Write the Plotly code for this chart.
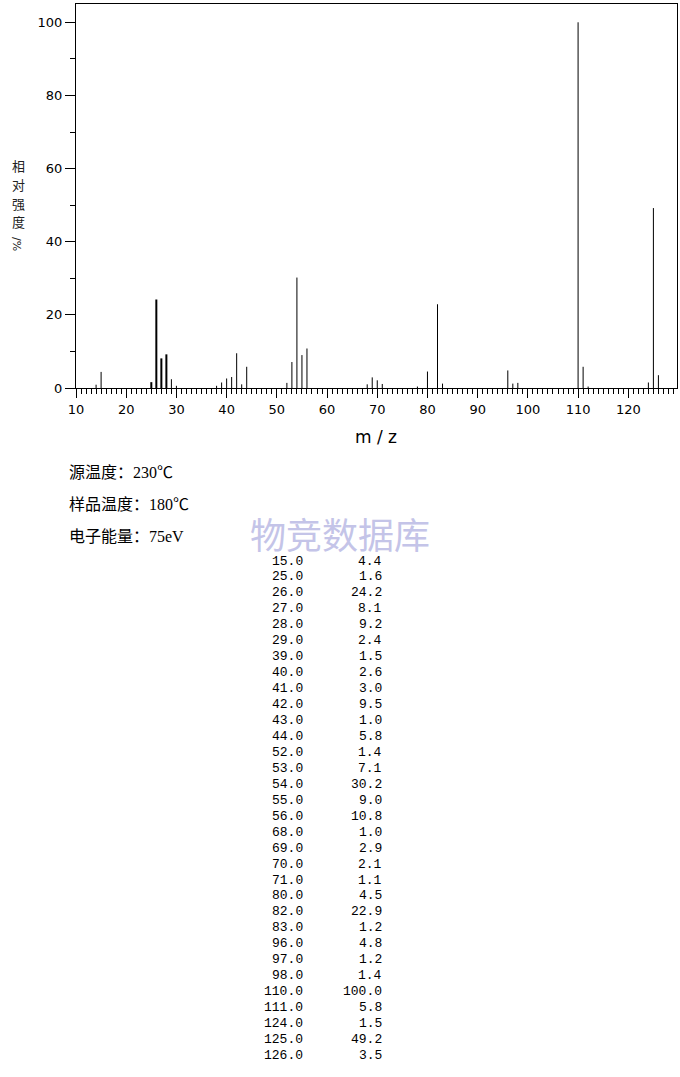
import plotly.graph_objects as go

# ---- data ----
mz = [15, 25, 26, 27, 28, 29, 39, 40, 41, 42, 43, 44, 52, 53, 54, 55, 56,
      68, 69, 70, 71, 80, 82, 83, 96, 97, 98, 110, 111, 124, 125, 126]
intensity = [4.4, 1.6, 24.2, 8.1, 9.2, 2.4, 1.5, 2.6, 3.0, 9.5, 1.0, 5.8, 1.4,
             7.1, 30.2, 9.0, 10.8, 1.0, 2.9, 2.1, 1.1, 4.5, 22.9, 1.2, 4.8,
             1.2, 1.4, 100.0, 5.8, 1.5, 49.2, 3.5]
# small peaks shown in the spectrum but not in the table
minor_mz = [14, 30, 38, 78, 112]
minor_intensity = [0.9, 0.6, 0.6, 0.4, 0.4]

info_lines = ["源温度：230℃", "样品温度：180℃", "电子能量：75eV"]
y_title_chars = ["相", "对", "强", "度"]
watermark = "物竞数据库"

# ---- layout geometry (pixels) ----
W, H = 680, 1077
L, R, T, B = 76, 3, 4, 689
PW, PH = W - L - R, H - T - B


def px(x):
    return (x - L) / PW


def py(y):
    return (H - B - y) / PH


thick = {25, 26, 27, 28}

all_mz = mz + minor_mz
all_int = intensity + minor_intensity

fig = go.Figure()
for width_px, sel in [(1, lambda m: m not in thick), (2, lambda m: m in thick)]:
    xs, ys = [], []
    for m, v in zip(all_mz, all_int):
        if sel(m):
            xs += [m, m, None]
            ys += [0, v, None]
    fig.add_trace(go.Scatter(x=xs, y=ys, mode="lines",
                             line=dict(color="black", width=width_px),
                             hoverinfo="skip", showlegend=False))

tickfont = dict(family="DejaVu Sans", size=13, color="black")
fig.update_xaxes(range=[10, 129.7], showline=True, linecolor="black", linewidth=1,
                 mirror=True, ticks="outside", ticklen=9, tickcolor="black",
                 dtick=10, tick0=10, showgrid=False, zeroline=False,
                 tickfont=tickfont,
                 minor=dict(dtick=1, tick0=10, ticks="outside", ticklen=5,
                            tickcolor="black", showgrid=False))
fig.update_yaxes(range=[0, 105], showline=True, linecolor="black", linewidth=1,
                 mirror=True, ticks="outside", ticklen=10, tickcolor="black",
                 dtick=20, tick0=0, showgrid=False, zeroline=False,
                 tickfont=tickfont,
                 minor=dict(dtick=10, tick0=0, ticks="outside", ticklen=5,
                            tickcolor="black", showgrid=False))

ann = []
# x-axis title
ann.append(dict(x=px(376), y=py(437), xref="paper", yref="paper", text="m / z",
                showarrow=False, xanchor="center", yanchor="middle",
                font=dict(family="DejaVu Sans", size=17, color="black")))
# y-axis title (stacked characters, one annotation each)
for i, ch in enumerate(y_title_chars):
    ann.append(dict(x=px(18), y=py(165 + i * 19), xref="paper", yref="paper",
                    text=ch, showarrow=False, xanchor="center", yanchor="middle",
                    font=dict(family="Noto Sans CJK SC", size=13, color="#222")))
ann.append(dict(x=px(17), y=py(244), xref="paper", yref="paper", text="/%",
                textangle=90, showarrow=False, xanchor="center", yanchor="middle",
                font=dict(family="DejaVu Sans", size=11, color="#222")))
# info lines
for i, t in enumerate(info_lines):
    ann.append(dict(x=px(67), y=py(472 + i * 32), xref="paper", yref="paper",
                    text=t, showarrow=False, xanchor="left", yanchor="middle",
                    font=dict(family="Liberation Serif, Noto Sans CJK SC", size=16,
                              color="black")))
# watermark
ann.append(dict(x=px(340), y=py(533), xref="paper", yref="paper", text=watermark,
                showarrow=False, xanchor="center", yanchor="middle",
                font=dict(family="Noto Sans CJK SC", size=36, color="rgb(196,196,232)")))
# table
mono = dict(family="Liberation Mono", size=13, color="black")
for i, (m, v) in enumerate(zip(mz, intensity)):
    yy = py(561 + i * 15.95)
    ann.append(dict(x=px(305), y=yy, xref="paper", yref="paper", text=f"{m:.1f}",
                    showarrow=False, xanchor="right", yanchor="middle", font=mono))
    ann.append(dict(x=px(384), y=yy, xref="paper", yref="paper", text=f"{v:.1f}",
                    showarrow=False, xanchor="right", yanchor="middle", font=mono))

fig.update_layout(width=W, height=H, margin=dict(l=L, r=R, t=T, b=B),
                  paper_bgcolor="white", plot_bgcolor="white",
                  annotations=ann, showlegend=False)

fig.write_html("out.html", config={"displayModeBar": False},
               post_script="document.body.style.margin='0';")
